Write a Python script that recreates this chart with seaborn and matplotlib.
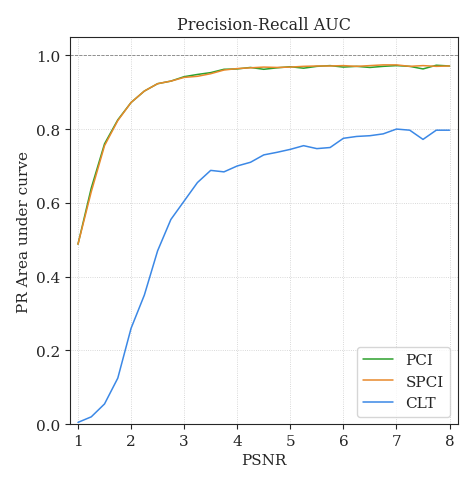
import numpy as np
import pandas as pd
import seaborn as sns
import matplotlib.pyplot as plt

psnr = np.arange(1, 8.01, 0.25)
pci = [0.488, 0.64, 0.76, 0.825, 0.872, 0.903, 0.923, 0.930, 0.942, 0.948, 0.953, 0.962, 0.963,
       0.967, 0.962, 0.966, 0.969, 0.965, 0.970, 0.972, 0.968, 0.970, 0.967, 0.970, 0.972, 0.970,
       0.963, 0.973, 0.971]
spci = [0.488, 0.63, 0.755, 0.823, 0.872, 0.903, 0.923, 0.930, 0.940, 0.943, 0.950, 0.960, 0.964,
        0.966, 0.968, 0.967, 0.968, 0.970, 0.971, 0.971, 0.972, 0.970, 0.972, 0.974, 0.974, 0.970,
        0.972, 0.970, 0.971]
clt = [0.005, 0.02, 0.055, 0.125, 0.26, 0.35, 0.47, 0.555, 0.605, 0.655, 0.688, 0.684, 0.700,
       0.710, 0.730, 0.737, 0.745, 0.755, 0.747, 0.750, 0.775, 0.780, 0.782, 0.787, 0.800, 0.797,
       0.772, 0.797, 0.797]

df = pd.DataFrame({"PSNR": np.tile(psnr, 3),
                   "AUC": pci + spci + clt,
                   "method": ["PCI"] * 29 + ["SPCI"] * 29 + ["CLT"] * 29})

sns.set_style("ticks")
plt.rcParams['font.family'] = ['DejaVu Serif']
plt.rcParams['font.size'] = 11
fig, ax = plt.subplots(figsize=(4.74, 4.85), dpi=100)
sns.lineplot(data=df, x="PSNR", y="AUC", hue="method", ax=ax, linewidth=1.1,
             palette={"PCI": "#2ca02c", "SPCI": "#e8892b", "CLT": "#3b88e6"})
ax.axhline(1.0, color="grey", linestyle="--", linewidth=0.6)
ax.grid(True, linestyle=":", linewidth=0.6, color="#cccccc")
ax.set_xlim(0.85, 8.15)
ax.set_ylim(0, 1.05)
ax.set_xticks(range(1, 9))
ax.set_yticks([0, 0.2, 0.4, 0.6, 0.8, 1.0])
ax.tick_params(labelsize=11)
ax.set_xlabel("PSNR", fontsize=11)
ax.set_ylabel("PR Area under curve", fontsize=11)
ax.set_title("Precision-Recall AUC", fontsize=11.5)
ax.legend(title=None, loc="lower right", fontsize=11)
fig.tight_layout()
fig.savefig("out.png")
